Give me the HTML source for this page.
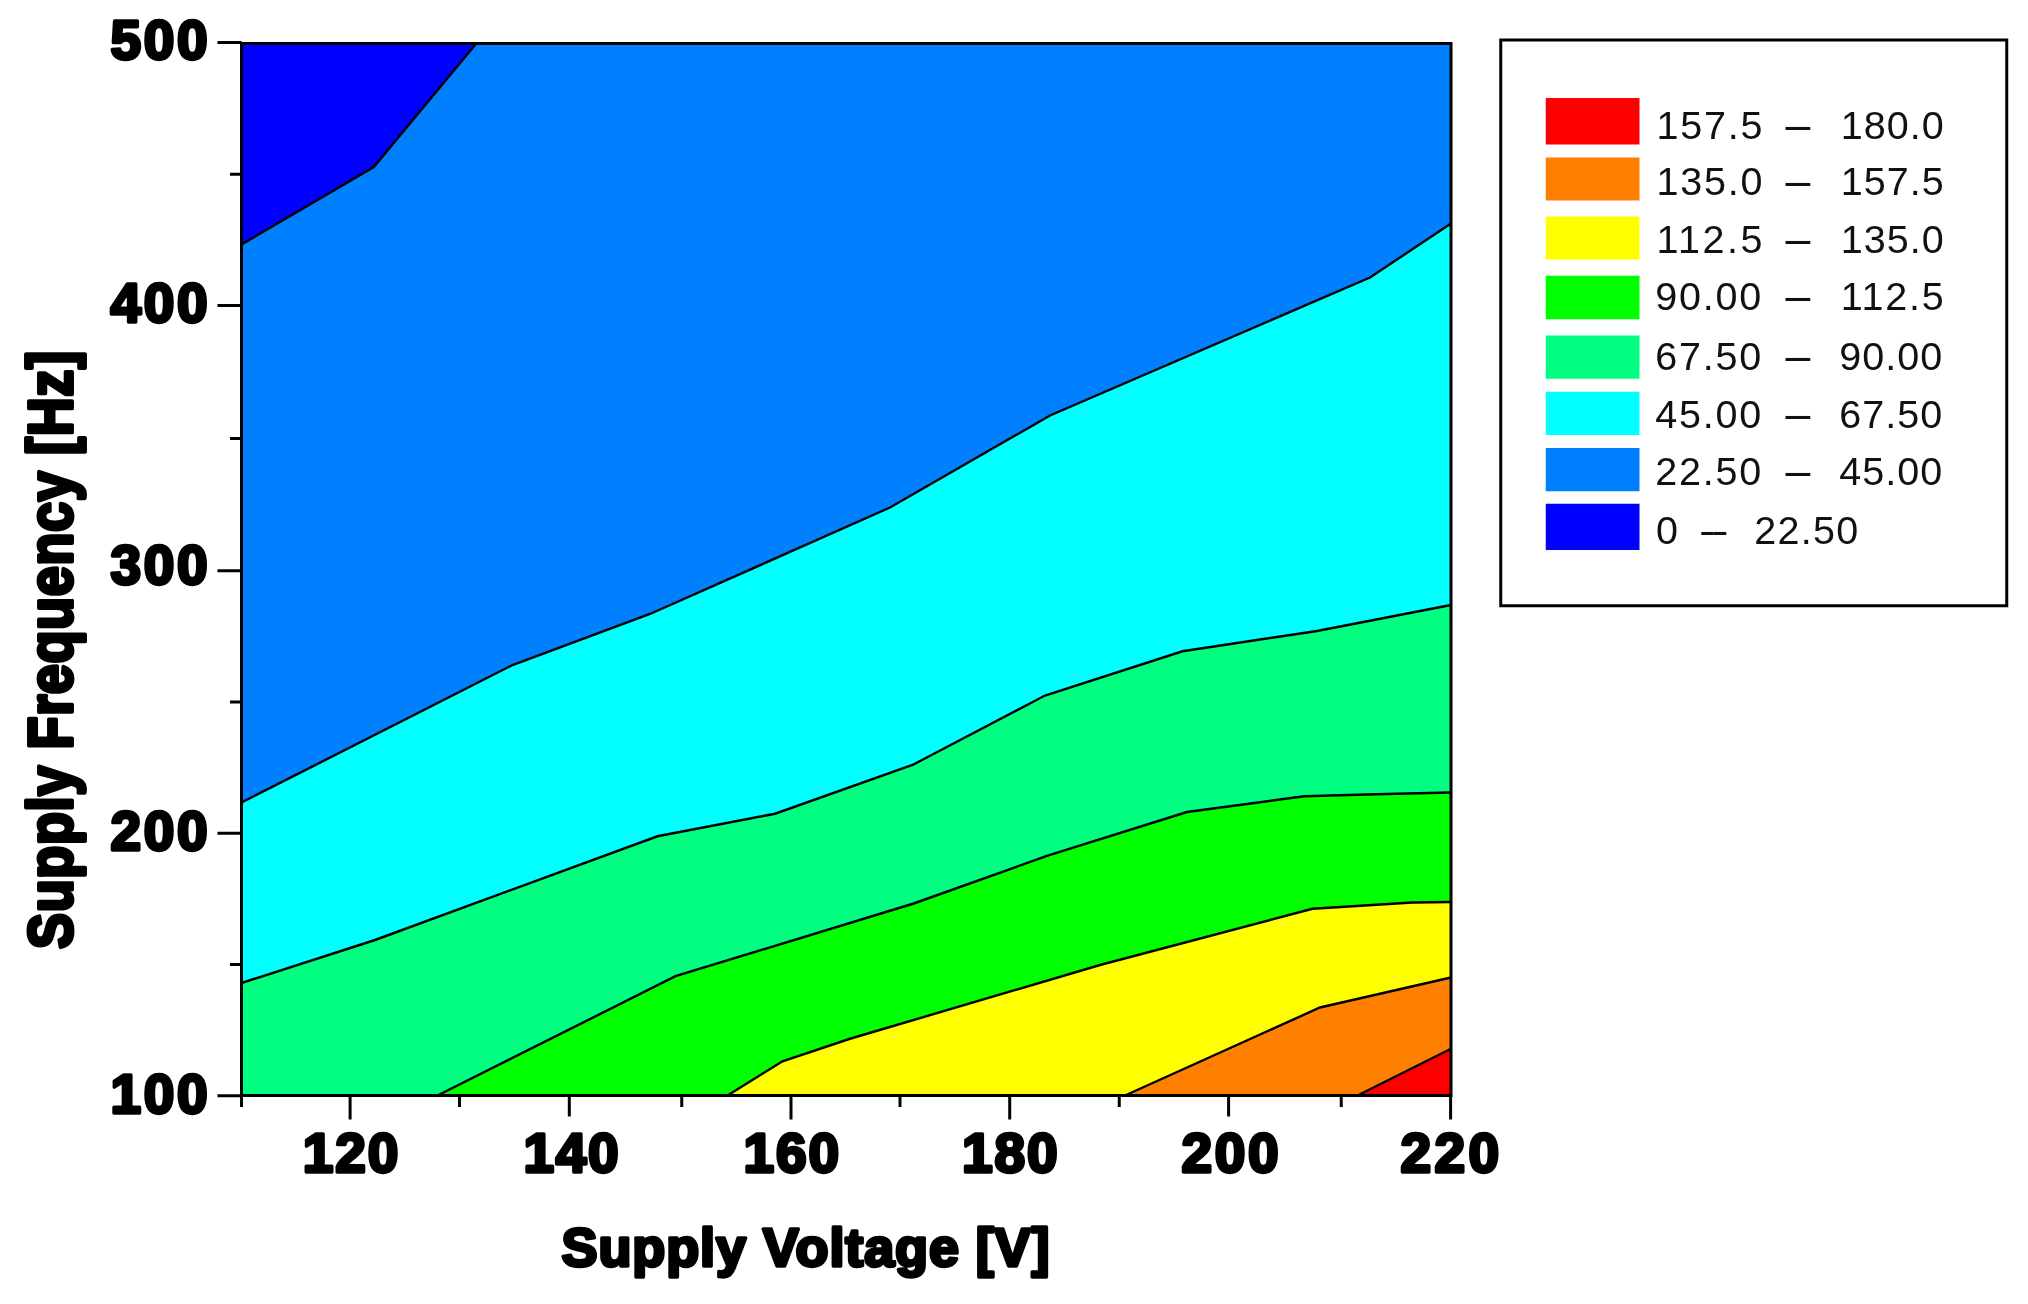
<!DOCTYPE html>
<html><head><meta charset="utf-8"><title>Contour plot</title>
<style>
html,body{margin:0;padding:0;background:#fff;}
body{width:2028px;height:1304px;overflow:hidden;}
svg{display:block;filter:blur(0.7px);}
</style></head><body>
<svg width="2028" height="1304" viewBox="0 0 2028 1304">
<rect width="2028" height="1304" fill="#fff"/>
<rect x="241.5" y="43.5" width="1209.5" height="1052.0" fill="#0000ff"/>
<polygon points="241.5,244.5 373.75,167 476.25,43.5 1451,43.5 1451,1095.5 241.5,1095.5" fill="#0080ff"/>
<polygon points="241.5,802.5 512.5,665 650,614 890,507.5 1050,415.5 1370,277.5 1451,223.5 1451,1095.5 241.5,1095.5" fill="#00ffff"/>
<polygon points="241.5,983 375,940 657.5,836.25 775,813.75 912.5,765 1045,695.5 1182.5,651.25 1317,631 1451,605 1451,1095.5 241.5,1095.5" fill="#00ff80"/>
<polygon points="437.5,1095.5 675.5,976.2 913.7,903.5 1046.9,855.9 1187,812 1304,796.3 1376,794.3 1451,792.5 1451,1095.5" fill="#00ff00"/>
<polygon points="727.5,1095.5 782.5,1061.25 850,1038.75 1100,965 1312.5,908.75 1412.5,902.5 1451,902 1451,1095.5" fill="#ffff00"/>
<polygon points="1125,1095.5 1320,1007.5 1451,977.5 1451,1095.5" fill="#ff8000"/>
<polygon points="1357.5,1095.5 1451,1048.75 1451,1095.5" fill="#ff0000"/>
<polyline points="241.5,244.5 373.75,167 476.25,43.5" fill="none" stroke="#000" stroke-width="2.4"/>
<polyline points="241.5,802.5 512.5,665 650,614 890,507.5 1050,415.5 1370,277.5 1451,223.5" fill="none" stroke="#000" stroke-width="2.4"/>
<polyline points="241.5,983 375,940 657.5,836.25 775,813.75 912.5,765 1045,695.5 1182.5,651.25 1317,631 1451,605" fill="none" stroke="#000" stroke-width="2.4"/>
<polyline points="437.5,1095.5 675.5,976.2 913.7,903.5 1046.9,855.9 1187,812 1304,796.3 1376,794.3 1451,792.5" fill="none" stroke="#000" stroke-width="2.4"/>
<polyline points="727.5,1095.5 782.5,1061.25 850,1038.75 1100,965 1312.5,908.75 1412.5,902.5 1451,902" fill="none" stroke="#000" stroke-width="2.4"/>
<polyline points="1125,1095.5 1320,1007.5 1451,977.5" fill="none" stroke="#000" stroke-width="2.4"/>
<polyline points="1357.5,1095.5 1451,1048.75" fill="none" stroke="#000" stroke-width="2.4"/>
<rect x="241.5" y="43.5" width="1209.5" height="1052.0" fill="none" stroke="#000" stroke-width="3"/>
<line x1="217.5" x2="241.5" y1="42.5" y2="42.5" stroke="#000" stroke-width="3"/>
<line x1="217.5" x2="241.5" y1="305.5" y2="305.5" stroke="#000" stroke-width="3"/>
<line x1="217.5" x2="241.5" y1="570.75" y2="570.75" stroke="#000" stroke-width="3"/>
<line x1="217.5" x2="241.5" y1="833.25" y2="833.25" stroke="#000" stroke-width="3"/>
<line x1="217.5" x2="241.5" y1="1095.75" y2="1095.75" stroke="#000" stroke-width="3"/>
<line x1="230" x2="241.5" y1="174.25" y2="174.25" stroke="#000" stroke-width="3"/>
<line x1="230" x2="241.5" y1="438.5" y2="438.5" stroke="#000" stroke-width="3"/>
<line x1="230" x2="241.5" y1="702" y2="702" stroke="#000" stroke-width="3"/>
<line x1="230" x2="241.5" y1="964.5" y2="964.5" stroke="#000" stroke-width="3"/>
<line x1="350.1" x2="350.1" y1="1095.5" y2="1119.5" stroke="#000" stroke-width="3"/>
<line x1="569.3" x2="569.3" y1="1095.5" y2="1116.5" stroke="#000" stroke-width="3"/>
<line x1="791" x2="791" y1="1095.5" y2="1119.5" stroke="#000" stroke-width="3"/>
<line x1="1009.7" x2="1009.7" y1="1095.5" y2="1119.5" stroke="#000" stroke-width="3"/>
<line x1="1228.6" x2="1228.6" y1="1095.5" y2="1116.5" stroke="#000" stroke-width="3"/>
<line x1="1450.6" x2="1450.6" y1="1095.5" y2="1119.5" stroke="#000" stroke-width="3"/>
<line x1="241.5" x2="241.5" y1="1095.5" y2="1107" stroke="#000" stroke-width="3"/>
<line x1="459.5" x2="459.5" y1="1095.5" y2="1107" stroke="#000" stroke-width="3"/>
<line x1="681.75" x2="681.75" y1="1095.5" y2="1107" stroke="#000" stroke-width="3"/>
<line x1="900" x2="900" y1="1095.5" y2="1107" stroke="#000" stroke-width="3"/>
<line x1="1119.25" x2="1119.25" y1="1095.5" y2="1107" stroke="#000" stroke-width="3"/>
<line x1="1341.25" x2="1341.25" y1="1095.5" y2="1107" stroke="#000" stroke-width="3"/>
<text x="207.5" y="59.3" text-anchor="end" textLength="97" lengthAdjust="spacing" font-family="Liberation Sans, Arial, sans-serif" font-weight="bold" font-size="55" stroke="#000" stroke-width="3.4" stroke-linejoin="round" fill="#000">500</text>
<text x="207.5" y="321.8" text-anchor="end" textLength="97" lengthAdjust="spacing" font-family="Liberation Sans, Arial, sans-serif" font-weight="bold" font-size="55" stroke="#000" stroke-width="3.4" stroke-linejoin="round" fill="#000">400</text>
<text x="207.5" y="584.1" text-anchor="end" textLength="97" lengthAdjust="spacing" font-family="Liberation Sans, Arial, sans-serif" font-weight="bold" font-size="55" stroke="#000" stroke-width="3.4" stroke-linejoin="round" fill="#000">300</text>
<text x="207.5" y="850" text-anchor="end" textLength="97" lengthAdjust="spacing" font-family="Liberation Sans, Arial, sans-serif" font-weight="bold" font-size="55" stroke="#000" stroke-width="3.4" stroke-linejoin="round" fill="#000">200</text>
<text x="207.5" y="1112.5" text-anchor="end" textLength="97" lengthAdjust="spacing" font-family="Liberation Sans, Arial, sans-serif" font-weight="bold" font-size="55" stroke="#000" stroke-width="3.4" stroke-linejoin="round" fill="#000">100</text>
<text x="302.7" y="1172.2" textLength="95.6" lengthAdjust="spacing" font-family="Liberation Sans, Arial, sans-serif" font-weight="bold" font-size="55" stroke="#000" stroke-width="3.4" stroke-linejoin="round" fill="#000">120</text>
<text x="523.4" y="1172.2" textLength="95.3" lengthAdjust="spacing" font-family="Liberation Sans, Arial, sans-serif" font-weight="bold" font-size="55" stroke="#000" stroke-width="3.4" stroke-linejoin="round" fill="#000">140</text>
<text x="743.4" y="1172.2" textLength="95.7" lengthAdjust="spacing" font-family="Liberation Sans, Arial, sans-serif" font-weight="bold" font-size="55" stroke="#000" stroke-width="3.4" stroke-linejoin="round" fill="#000">160</text>
<text x="962" y="1172.2" textLength="95.5" lengthAdjust="spacing" font-family="Liberation Sans, Arial, sans-serif" font-weight="bold" font-size="55" stroke="#000" stroke-width="3.4" stroke-linejoin="round" fill="#000">180</text>
<text x="1181.5" y="1172.2" textLength="97.2" lengthAdjust="spacing" font-family="Liberation Sans, Arial, sans-serif" font-weight="bold" font-size="55" stroke="#000" stroke-width="3.4" stroke-linejoin="round" fill="#000">200</text>
<text x="1400.4" y="1172.2" textLength="98.7" lengthAdjust="spacing" font-family="Liberation Sans, Arial, sans-serif" font-weight="bold" font-size="55" stroke="#000" stroke-width="3.4" stroke-linejoin="round" fill="#000">220</text>
<text x="561.5" y="1266" textLength="488" lengthAdjust="spacing" font-family="Liberation Sans, Arial, sans-serif" font-weight="bold" font-size="54" stroke="#000" stroke-width="3.4" stroke-linejoin="round" fill="#000">Supply Voltage [V]</text>
<g transform="translate(72,949) rotate(-90) scale(1,1.16)"><text x="0" y="0" textLength="598" lengthAdjust="spacing" font-family="Liberation Sans, Arial, sans-serif" font-weight="bold" font-size="54" stroke="#000" stroke-width="3.4" stroke-linejoin="round" fill="#000">Supply Frequency [Hz]</text></g>
<rect x="1500.75" y="40" width="506" height="565.75" fill="#fff" stroke="#000" stroke-width="3"/>
<rect x="1545.75" y="98" width="93.75" height="46.5" fill="#ff0000"/>
<rect x="1545.75" y="157.5" width="93.75" height="43.0" fill="#ff8000"/>
<rect x="1545.75" y="216.5" width="93.75" height="43.0" fill="#ffff00"/>
<rect x="1545.75" y="275.75" width="93.75" height="43.5" fill="#00ff00"/>
<rect x="1545.75" y="335.5" width="93.75" height="43.25" fill="#00ff80"/>
<rect x="1545.75" y="391.75" width="93.75" height="43.25" fill="#00ffff"/>
<rect x="1545.75" y="448" width="93.75" height="43.25" fill="#0080ff"/>
<rect x="1545.75" y="503.75" width="93.75" height="46.25" fill="#0000ff"/>
<text x="1656.5" y="138.75" textLength="106" lengthAdjust="spacing" font-family="Liberation Sans, Arial, sans-serif" font-size="39.5" fill="#111">157.5</text>
<text transform="translate(1783.2,138.75) scale(1.3,1)" letter-spacing="-3.6" font-family="Liberation Sans, Arial, sans-serif" font-size="39.5" fill="#111">--</text>
<text x="1840.8" y="138.75" textLength="103" lengthAdjust="spacing" font-family="Liberation Sans, Arial, sans-serif" font-size="39.5" fill="#111">180.0</text>
<text x="1656.5" y="195" textLength="106" lengthAdjust="spacing" font-family="Liberation Sans, Arial, sans-serif" font-size="39.5" fill="#111">135.0</text>
<text transform="translate(1783.2,195) scale(1.3,1)" letter-spacing="-3.6" font-family="Liberation Sans, Arial, sans-serif" font-size="39.5" fill="#111">--</text>
<text x="1840.8" y="195" textLength="103" lengthAdjust="spacing" font-family="Liberation Sans, Arial, sans-serif" font-size="39.5" fill="#111">157.5</text>
<text x="1656.5" y="253" textLength="106" lengthAdjust="spacing" font-family="Liberation Sans, Arial, sans-serif" font-size="39.5" fill="#111">112.5</text>
<text transform="translate(1783.2,253) scale(1.3,1)" letter-spacing="-3.6" font-family="Liberation Sans, Arial, sans-serif" font-size="39.5" fill="#111">--</text>
<text x="1840.8" y="253" textLength="103" lengthAdjust="spacing" font-family="Liberation Sans, Arial, sans-serif" font-size="39.5" fill="#111">135.0</text>
<text x="1655.3" y="309.5" textLength="106" lengthAdjust="spacing" font-family="Liberation Sans, Arial, sans-serif" font-size="39.5" fill="#111">90.00</text>
<text transform="translate(1783.2,309.5) scale(1.3,1)" letter-spacing="-3.6" font-family="Liberation Sans, Arial, sans-serif" font-size="39.5" fill="#111">--</text>
<text x="1840.8" y="309.5" textLength="103" lengthAdjust="spacing" font-family="Liberation Sans, Arial, sans-serif" font-size="39.5" fill="#111">112.5</text>
<text x="1655.3" y="369.5" textLength="106" lengthAdjust="spacing" font-family="Liberation Sans, Arial, sans-serif" font-size="39.5" fill="#111">67.50</text>
<text transform="translate(1783.2,369.5) scale(1.3,1)" letter-spacing="-3.6" font-family="Liberation Sans, Arial, sans-serif" font-size="39.5" fill="#111">--</text>
<text x="1839.3" y="369.5" textLength="103" lengthAdjust="spacing" font-family="Liberation Sans, Arial, sans-serif" font-size="39.5" fill="#111">90.00</text>
<text x="1655.3" y="428" textLength="106" lengthAdjust="spacing" font-family="Liberation Sans, Arial, sans-serif" font-size="39.5" fill="#111">45.00</text>
<text transform="translate(1783.2,428) scale(1.3,1)" letter-spacing="-3.6" font-family="Liberation Sans, Arial, sans-serif" font-size="39.5" fill="#111">--</text>
<text x="1839.3" y="428" textLength="103" lengthAdjust="spacing" font-family="Liberation Sans, Arial, sans-serif" font-size="39.5" fill="#111">67.50</text>
<text x="1655.3" y="485" textLength="106" lengthAdjust="spacing" font-family="Liberation Sans, Arial, sans-serif" font-size="39.5" fill="#111">22.50</text>
<text transform="translate(1783.2,485) scale(1.3,1)" letter-spacing="-3.6" font-family="Liberation Sans, Arial, sans-serif" font-size="39.5" fill="#111">--</text>
<text x="1839.3" y="485" textLength="103" lengthAdjust="spacing" font-family="Liberation Sans, Arial, sans-serif" font-size="39.5" fill="#111">45.00</text>
<text x="1656" y="543.75" font-family="Liberation Sans, Arial, sans-serif" font-size="39.5" fill="#111">0</text>
<text transform="translate(1699,543.75) scale(1.3,1)" letter-spacing="-3.6" font-family="Liberation Sans, Arial, sans-serif" font-size="39.5" fill="#111">--</text>
<text x="1754.3" y="543.75" textLength="104" lengthAdjust="spacing" font-family="Liberation Sans, Arial, sans-serif" font-size="39.5" fill="#111">22.50</text>
</svg>
</body></html>
